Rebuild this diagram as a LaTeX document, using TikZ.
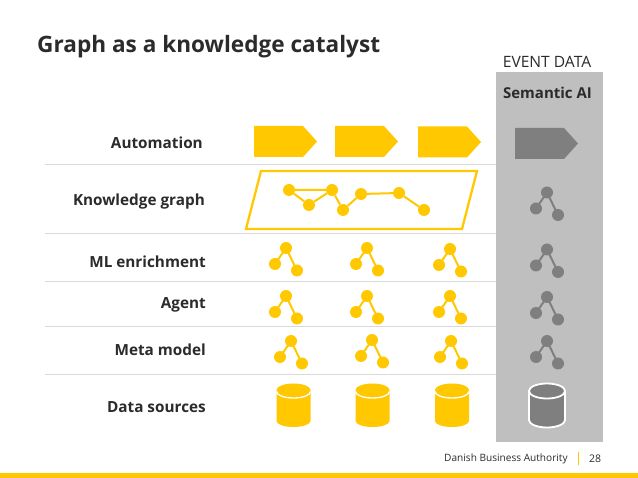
\documentclass[tikz,border=0pt]{standalone}
\usepackage{fontspec}
\setmainfont{Open Sans}
\definecolor{sapy}{HTML}{FFC800}
\definecolor{panelg}{HTML}{BFBFBF}
\definecolor{darkg}{HTML}{7F7F7F}
\definecolor{rulec}{HTML}{D9D9D9}
\definecolor{txt}{HTML}{2B2B2B}
\tikzset{
  lbl/.style={anchor=east,inner sep=0pt,font=\fontsize{15.3}{18}\selectfont\bfseries,text=txt},
  rowline/.style={draw=rulec,line width=1pt},
  dot/.style={circle,minimum size=12pt,inner sep=0pt,fill=#1},
  edge/.style={draw=#1,line width=2pt},
}
\newcommand{\pent}[3]{\fill[#3] (#1,#2) -- ++(49,0) -- ++(14,15.5) -- ++(-14,15.5) -- ++(-49,0) -- cycle;}
\newcommand{\treeicon}[4]{%
  \draw[edge=#4] (#2-11,#3+16) -- (#2,#3) -- (#2+11,#3+22.5);
  \node[dot=#4] (#1t) at (#2,#3) {};
  \node[dot=#4] (#1l) at (#2-11,#3+16) {};
  \node[dot=#4] (#1r) at (#2+11,#3+22.5) {};
}
\newcommand{\cyl}[1]{%
  \fill[sapy] (#1,390) arc[x radius=17,y radius=6.5,start angle=180,end angle=360]
    -- (#1+34,421) arc[x radius=17,y radius=6,start angle=0,end angle=180] -- cycle;
  \draw[white,line width=1.3pt] (#1,391.5) arc[x radius=17,y radius=6.5,start angle=180,end angle=0];
}
\begin{document}
\begin{tikzpicture}[x=1pt,y=-1pt]
\useasboundingbox (0,0) rectangle (638,478);
\fill[white] (0,0) rectangle (638,478);
% panel
\fill[panelg] (495.5,72) rectangle (603,442);
% rules
\foreach \yy in {165,234,282,327,375} \draw[rowline] (45,\yy) -- (495.5,\yy);
% title
\node[anchor=west,inner sep=0pt,font=\fontsize{22.6}{28}\selectfont\bfseries,text=txt] (title) at (37,46.5) {Graph as a knowledge catalyst};
\node[anchor=center,inner sep=0pt,font=\fontsize{15.6}{18}\selectfont,text=txt] (event) at (547,62) {EVENT DATA};
\node[anchor=center,inner sep=0pt,font=\fontsize{15}{18}\selectfont\bfseries,text=txt] (sem) at (547.5,93) {Semantic AI};
% labels
\node[lbl] (l1) at (203,143) {Automation};
\node[lbl] (l2) at (205,201.5) {Knowledge graph};
\node[lbl] (l3) at (206,261.5) {ML enrichment};
\node[lbl] (l4) at (206,305) {Agent};
\node[lbl] (l5) at (206,350) {Meta model};
\node[lbl] (l6) at (206,407) {Data sources};
% automation
\pent{254}{126}{sapy}
\pent{335}{126}{sapy}
\pent{418}{126.5}{sapy}
\pent{515}{128}{darkg}
% knowledge graph
\draw[sapy,line width=2.3pt] (261,171) -- (477,171) -- (462,229) -- (246,229) -- cycle;
\node[dot=sapy] (k1) at (289,190) {};
\node[dot=sapy] (k2) at (309,205) {};
\node[dot=sapy] (k3) at (332,190) {};
\node[dot=sapy] (k4) at (343,210) {};
\node[dot=sapy] (k5) at (361,194) {};
\node[dot=sapy] (k6) at (399,193) {};
\node[dot=sapy] (k7) at (424,210) {};
\draw[edge=sapy] (k1) -- (k2) -- (k3) -- (k1);
\draw[edge=sapy] (k3) -- (k4) -- (k5) -- (k6) -- (k7);
% trees
\treeicon{gk}{547}{192.5}{darkg}
\treeicon{a}{286}{248}{sapy}
\treeicon{b}{367}{248}{sapy}
\treeicon{c}{450}{249}{sapy}
\treeicon{d}{547}{249.5}{darkg}
\treeicon{e}{286}{296}{sapy}
\treeicon{f}{367}{296}{sapy}
\treeicon{g}{450}{296}{sapy}
\treeicon{h}{547}{297}{darkg}
\treeicon{i}{291}{341}{sapy}
\treeicon{j}{372}{340}{sapy}
\treeicon{m}{451}{341}{sapy}
\treeicon{n}{547}{341}{darkg}
% cylinders
\cyl{276.5}
\cyl{355.5}
\cyl{435}
\fill[darkg,draw=white,line width=1.8pt] (529,391) arc[x radius=18,y radius=7.5,start angle=180,end angle=360]
   -- (565,420) arc[x radius=18,y radius=7.5,start angle=0,end angle=180] -- cycle;
\draw[white,line width=1.8pt] (529,391) arc[x radius=18,y radius=7.5,start angle=180,end angle=0];
% footer
\fill[sapy] (0,473.5) rectangle (638,478);
\node[anchor=west,inner sep=0pt,font=\fontsize{10.1}{13}\selectfont,text=txt] (auth) at (444,458.5) {Danish Business Authority};
\draw[sapy,line width=0.8pt] (578,452) -- (578,465);
\node[anchor=west,inner sep=0pt,font=\fontsize{10.5}{13}\selectfont,text=txt] (page) at (589,459) {28};
\end{tikzpicture}
\end{document}
